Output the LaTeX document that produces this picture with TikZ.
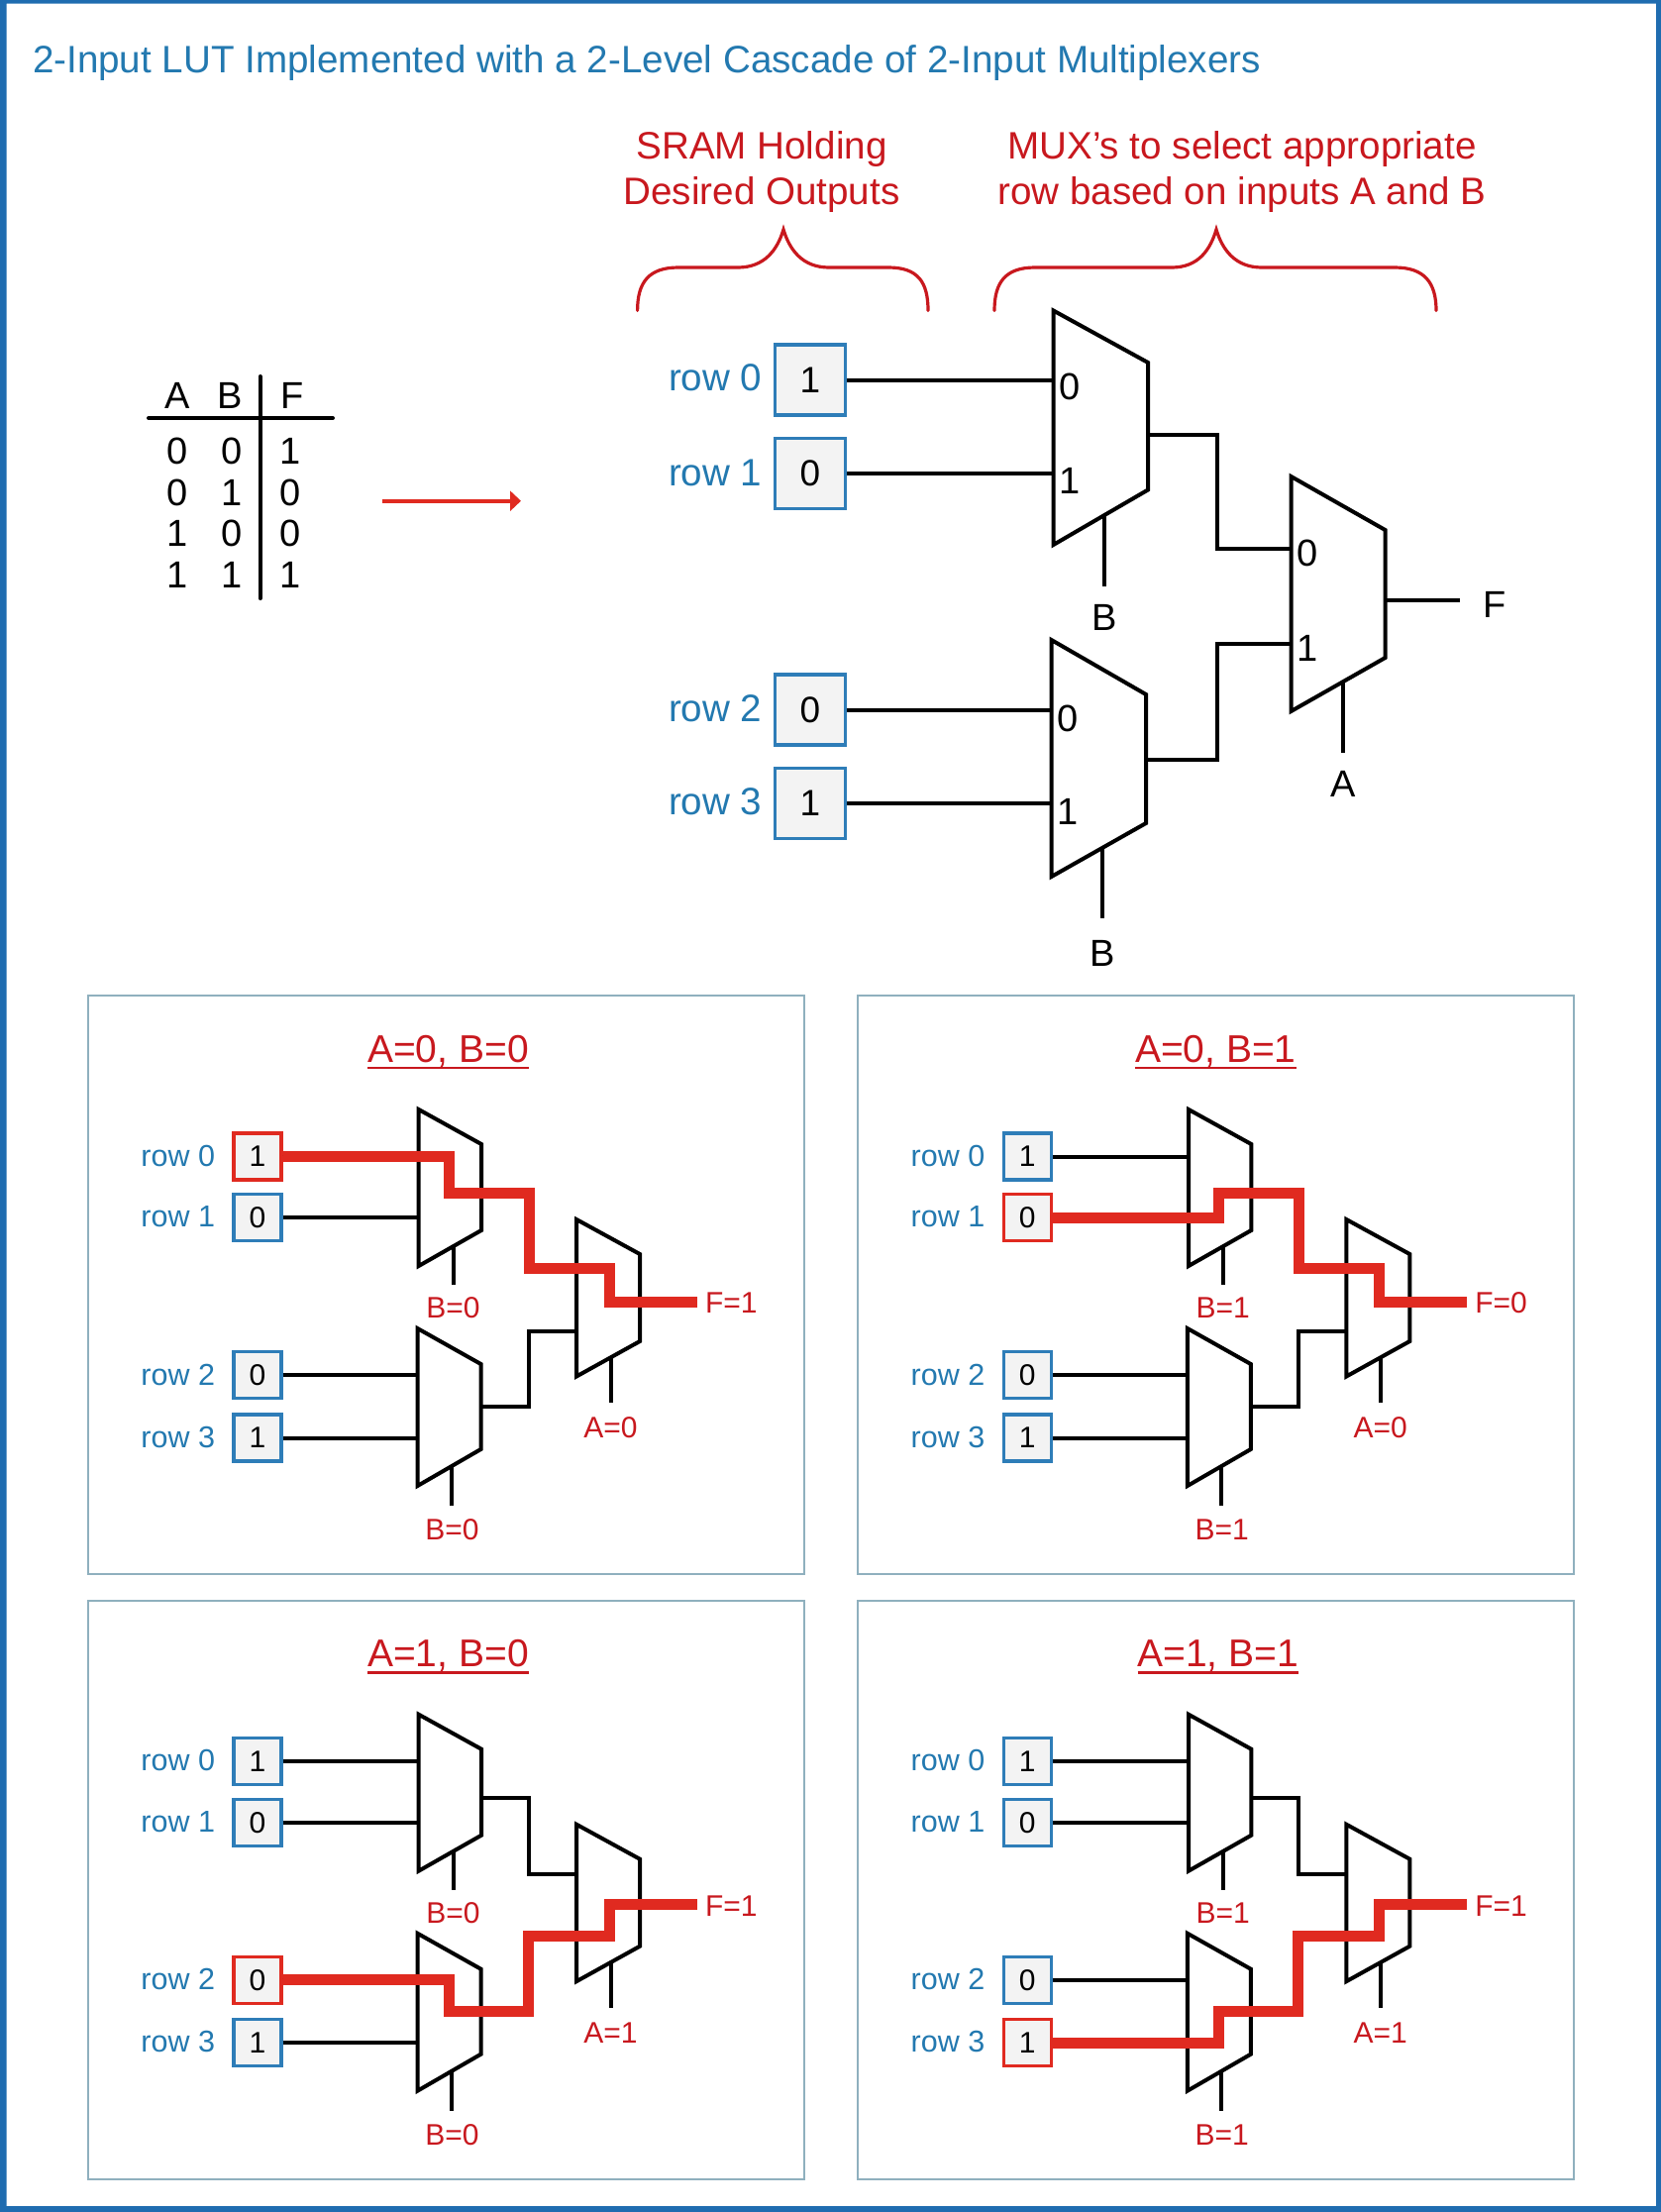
\documentclass[tikz,border=0pt]{standalone}
\usepackage{fontspec}
\setmainfont{Liberation Sans}
\usetikzlibrary{arrows.meta}
\definecolor{frameblue}{HTML}{1F6CB0}
\definecolor{txtblue}{HTML}{2379B0}
\definecolor{boxblue}{HTML}{2E7DB8}
\definecolor{txtred}{HTML}{C8181E}
\definecolor{wirered}{HTML}{E02A20}
\definecolor{panelline}{HTML}{8FB0BE}
\definecolor{boxfill}{HTML}{F3F3F3}
\newcommand{\fs}[1]{\fontsize{#1}{#1}\selectfont}
\tikzset{
  wire/.style={draw=black,line width=4pt,line join=miter},
  muxshape/.style={draw=black,line width=4pt,line join=miter,fill=white},
  pathon/.style={draw=wirered,line width=11pt,line join=miter},
  lbl/.style={inner sep=0pt,outer sep=0pt},
  bigbox/.style={draw=boxblue,line width=3.6pt,fill=boxfill,minimum width=71pt,minimum height=71pt,inner sep=0pt,font=\fs{37}},
  smallbox/.style={draw=boxblue,line width=3.2pt,fill=boxfill,minimum width=48pt,minimum height=47pt,inner sep=0pt,font=\fs{30}},
  redbox/.style={smallbox,draw=wirered},
  bigrow/.style={lbl,anchor=east,text=txtblue,font=\fs{38.6}},
  smallrow/.style={lbl,anchor=east,text=txtblue,font=\fs{30.5}},
  headred/.style={lbl,text=txtred,align=center,font=\fontsize{38.6}{46}\selectfont},
  smallred/.style={lbl,text=txtred,font=\fs{30}},
  brace/.style={draw=txtred,line width=3.2pt,line cap=round},
  big/.style={lbl,font=\fs{38}},
  panelbox/.style={draw=panelline,line width=2pt,fill=white},
}
% #1 name, #2 x left, #3 x right, #4 y top-left, #5 y top-right, #6 y bottom-right, #7 y bottom-left
\newcommand{\muxat}[7]{%
  \draw[muxshape] (#2,#4) coordinate (#1tl) -- (#3,#5) coordinate (#1tr) -- (#3,#6) coordinate (#1br) -- (#2,#7) coordinate (#1bl) -- cycle;
}
% panel: #1 prefix, #2 dx, #3 dy, #4 title, #5 B label, #6 A label, #7 F label, #8 active row, #9 title x
\newcommand{\lutpanel}[9]{%
\begin{scope}[shift={(#2,#3)},name prefix=#1-]
  \tikzset{st0/.style={smallbox},st1/.style={smallbox},st2/.style={smallbox},st3/.style={smallbox},st#8/.style={redbox}}
  \draw[panelbox] (88.6,1005) rectangle (811.5,1589);
  \node[lbl,text=txtred,font=\fs{39},anchor=base] (title) at (#9,1072) {#4};
  \draw[draw=txtred,line width=2.6pt] (title.base west |- 0,1078) coordinate (ula) -- (title.base east |- 0,1078) coordinate (ulb);
  \node[smallrow] (l0) at (217,1166.5) {row 0};
  \node[smallrow] (l1) at (217,1228.5) {row 1};
  \node[smallrow] (l2) at (217,1387.5) {row 2};
  \node[smallrow] (l3) at (217,1450.5) {row 3};
  \node[st0] (r0) at (260,1167.5) {1};
  \node[st1] (r1) at (260,1229) {0};
  \node[st2] (r2) at (260,1388) {0};
  \node[st3] (r3) at (260,1451.5) {1};
  \coordinate (ma) at (422.7,1200);
  \coordinate (mb) at (421.5,1420);
  \coordinate (ja) at (534,1204);
  \coordinate (jb) at (533.5,1420);
  \coordinate (ba) at (453.5,1204);
  \coordinate (bb) at (453.5,1420);
  % wires under the mux bodies
  \draw[wire] (r0.east) -- (r0.east -| ma);
  \draw[wire] (r1.east) -- (r1.east -| ma);
  \draw[wire] (r2.east) -- (r2.east -| mb);
  \draw[wire] (r3.east) -- (r3.east -| mb);
  \draw[wire] (457.5,1257) coordinate (s1a) -- (457.5,1297) coordinate (s1b);
  \draw[wire] (456,1478) coordinate (s2a) -- (456,1520) coordinate (s2b);
  \draw[wire] (616.5,1370) coordinate (s3a) -- (616.5,1416) coordinate (s3b);
  \muxat{m1}{422.7}{486}{1120}{1155}{1242}{1278}
  \muxat{m2}{421.5}{485.5}{1341}{1377}{1463}{1500}
  \muxat{m3}{582}{646}{1231}{1266}{1354}{1389.5}
  \coordinate (m1out) at (486,1204);
  \coordinate (m2out) at (485.5,1420);
  \coordinate (m3in0) at (582,1280.8);
  \coordinate (m3in1) at (582,1343.5);
  \ifnum#8<2
    \coordinate (ca) at (615.5,1314);
    \coordinate (fend) at (704,1314);
    \draw[wire] (m2out) -| (jb) |- (m3in1);
    \draw[pathon] (r#8.east) -| (ba) -- (ja) |- (ca |- m3in0) -- (ca) -- (fend);
    \node[smallred,anchor=west] (fl) at (712,1315.5) {#7};
  \else
    \coordinate (ca) at (615.5,1312);
    \coordinate (fend) at (704,1312);
    \draw[wire] (m1out) -| (ja) |- (m3in0);
    \draw[pathon] (r#8.east) -| (bb) -- (jb) |- (ca |- m3in1) -- (ca) -- (fend);
    \node[smallred,anchor=west] (fl) at (712,1313.5) {#7};
  \fi
  \node[smallred] (bl1) at (457.5,1320) {#5};
  \node[smallred] (bl2) at (456.5,1544.5) {#5};
  \node[smallred] (al) at (616.5,1441.5) {#6};
\end{scope}}
\begin{document}
\begin{tikzpicture}[x=1pt,y=-1pt]
\useasboundingbox (0,0) rectangle (1677,2233);
\fill[white] (0,0) rectangle (1677,2233);
\fill[frameblue,even odd rule] (0,0) rectangle (1677,2233) (6.5,3.5) rectangle (1672,2227);
\node[lbl,anchor=base west,text=txtblue,font=\fs{38.6}] (maintitle) at (33,73) {2-Input LUT Implemented with a 2-Level Cascade of 2-Input Multiplexers};
% headings
\node[headred] (h1) at (769,174) {SRAM Holding\\Desired Outputs};
\node[headred] (h2) at (1254,174) {MUX’s to select appropriate\\row based on inputs A and B};
% braces
\draw[brace] (643.6,313.5) .. controls (643.6,285) and (655,270) .. (685,270) -- (745,270) .. controls (772,270) and (785,252) .. (791,231.6) .. controls (797,252) and (810,270) .. (837,270) -- (897,270) .. controls (927,270) and (937,285) .. (937,313.5);
\draw[brace] (1004,313.5) .. controls (1004,285) and (1015,270) .. (1045,270) -- (1183,270) .. controls (1210,270) and (1222,252) .. (1228,231.6) .. controls (1234,252) and (1247,270) .. (1274,270) -- (1408,270) .. controls (1438,270) and (1450,285) .. (1450,313.5);
% truth table
\foreach \nm/\tx/\xx/\yy in {ha/A/179/399,hb/B/232/399,hf/F/295/399,
  c1/0/179/455,c2/0/234/455,c3/1/293/455,
  c4/0/179/497,c5/1/234/497,c6/0/293/497,
  c7/1/179/538,c8/0/234/538,c9/0/293/538,
  c10/1/179/580,c11/1/234/580,c12/1/293/580}{
  \node[big] (\nm) at (\xx,\yy) {\tx};
}
\draw[line width=4pt,line cap=round] (150,422) coordinate (tl) -- (336,422) coordinate (tr);
\draw[line width=4pt,line cap=round] (262.7,380) coordinate (tt) -- (262.7,604) coordinate (tb);
% arrow
\draw[draw=wirered,line width=3.6pt,-{Triangle[length=11pt,width=20pt]}] (386,505.7) coordinate (aa) -- (526,505.7) coordinate (ab);
% main LUT
\node[bigrow] (L0) at (769.5,381) {row 0};
\node[bigrow] (L1) at (769.5,477) {row 1};
\node[bigrow] (L2) at (769.5,715) {row 2};
\node[bigrow] (L3) at (769.5,809.5) {row 3};
\node[bigbox] (R0) at (818,383.5) {1};
\node[bigbox] (R1) at (818,478) {0};
\node[bigbox] (R2) at (818,716.5) {0};
\node[bigbox] (R3) at (818,811) {1};
\coordinate (Ma) at (1063.5,440);
\coordinate (Mb) at (1061.5,770);
\draw[wire] (R0.east) -- (R0.east -| Ma);
\draw[wire] (R1.east) -- (R1.east -| Ma);
\draw[wire] (R2.east) -- (R2.east -| Mb);
\draw[wire] (R3.east) -- (R3.east -| Mb);
\draw[wire] (1114.5,515) coordinate (Sa1) -- (1114.5,592) coordinate (Sa2);
\draw[wire] (1112.5,850) coordinate (Sb1) -- (1112.5,927) coordinate (Sb2);
\draw[wire] (1356,685) coordinate (Sc1) -- (1356,760) coordinate (Sc2);
\muxat{Mx1}{1063.5}{1159}{313.5}{366}{494.5}{550}
\muxat{Mx2}{1061.5}{1157}{646}{701}{831}{885}
\muxat{Mx3}{1303.5}{1398.5}{481}{535}{664}{718}
\coordinate (Ja) at (1229,500);
\coordinate (O1) at (1159,439);
\coordinate (O2) at (1157,767);
\coordinate (I0) at (1303.5,554);
\coordinate (I1) at (1303.5,650);
\coordinate (O3) at (1398.5,605.5);
\coordinate (Fe) at (1473.5,605.5);
\draw[wire] (O1) -- (O1 -| Ja) -- (I0 -| Ja) -- (I0);
\draw[wire] (O2) -- (O2 -| Ja) -- (I1 -| Ja) -- (I1);
\draw[wire] (O3) -- (Fe);
\foreach \nm/\tx/\xx/\yy in {d1/0/1080/390.5,d2/1/1080/485,d3/0/1078/725,d4/1/1078/819,d5/0/1320/558.6,d6/1/1320/654,
  lb1/B/1115/623,lb2/B/1113/962,la/A/1356/791,lf/F/1509/610}{
  \node[big] (\nm) at (\xx,\yy) {\tx};
}
% panels
\lutpanel{pa}{0}{0}{A=0, B=0}{B=0}{A=0}{F=1}{0}{452.5}
\lutpanel{pb}{777.3}{0}{A=0, B=1}{B=1}{A=0}{F=0}{1}{450}
\lutpanel{pc}{0}{610.7}{A=1, B=0}{B=0}{A=1}{F=1}{2}{452.5}
\lutpanel{pd}{777.3}{610.7}{A=1, B=1}{B=1}{A=1}{F=1}{3}{452.5}
\end{tikzpicture}
\end{document}
